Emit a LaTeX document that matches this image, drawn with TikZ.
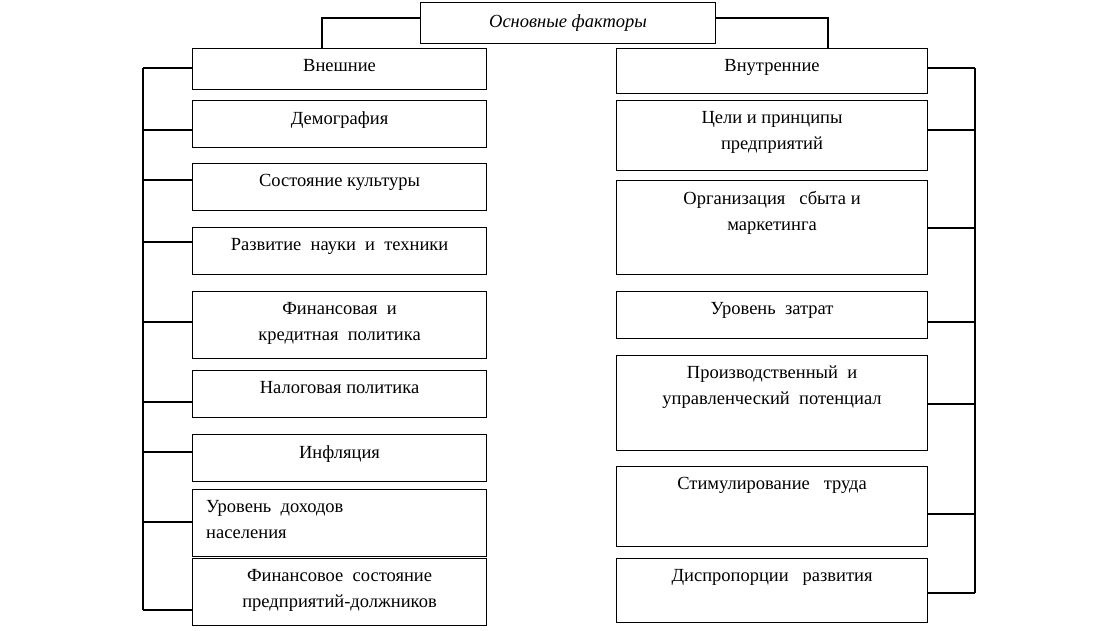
\documentclass[tikz,border=0pt]{standalone}
\usepackage{fontspec}
\setmainfont{Liberation Serif}
\begin{document}
\begin{tikzpicture}[x=1pt,y=-1pt,
  bx/.style={draw,line width=1.1pt,inner sep=0pt},
  tx/.style={font=\fontsize{18.5}{26}\selectfont,inner sep=0pt},
  ln/.style={line width=1.1pt}]
\useasboundingbox (0,0) rectangle (1119,630);
\node[bx,minimum width=295,minimum height=41,anchor=north west,font=\itshape\fontsize{18.5}{22}\selectfont] (top) at (420,2) {Основные факторы};
% left
\foreach \n/\a/\b/\t in {l1/48/89/Внешние, l2/100/147/Демография, l3/163/210/Состояние культуры, l4/227/274/Развитие\ \ науки\ \ и\ \ техники, l5/291/358/{Финансовая\ \ и\\кредитная\ \ политика}, l6/370/417/Налоговая политика, l7/434/481/Инфляция, l9/558/625/{Финансовое\ \ состояние\\предприятий-должников}}{
 \node[bx,minimum width=294,minimum height=\b-\a,anchor=north west] (\n) at (192,\a) {};
 \node[tx,align=center,anchor=north] (\n t) at ([yshift=-11]\n.north) {\t};
}
\node[bx,minimum width=294,minimum height=67,anchor=north west] (l8) at (192,489) {};
\node[tx,align=left,anchor=north west] at ([xshift=14,yshift=-11]l8.north west) {Уровень\ \ доходов\\населения};
% right
\foreach \n/\a/\b/\t in {r1/48/93/Внутренние, r2/100/170/{Цели и принципы\\предприятий}, r3/180/274/{Организация\ \ \ сбыта и\\маркетинга}, r4/291/338/Уровень\ \ затрат, r5/355/450/{Производственный\ \ и\\управленческий\ \ потенциал}, r6/466/546/Стимулирование\ \ \ труда, r7/558/622/Диспропорции\ \ \ развития}{
 \node[bx,minimum width=311,minimum height=\b-\a,anchor=north west] (\n) at (616,\a) {};
 \node[tx,align=center,anchor=north] (\n t) at ([yshift=-11]\n.north) {\t};
}
\coordinate (lb) at (143,68); \coordinate (le) at (143,610);
\coordinate (rb) at (975,68); \coordinate (re) at (975,593);
\draw[ln] (top.west |- 0,18) -| (l1.north -| 322,0);
\draw[ln] (top.east |- 0,18) -| (r1.north -| 828,0);
\draw[ln] (lb) -- (le);
\draw[ln] (rb) -- (re);
\foreach \n/\y in {l1/68,l2/130,l3/180,l4/242,l5/322,l6/402,l7/452,l8/522,l9/610}{\draw[ln] (143,\y) -- (\n.west |- 0,\y);}
\foreach \n/\y in {r1/68,r2/130,r3/228,r4/322,r5/404,r6/514,r7/593}{\draw[ln] (975,\y) -- (\n.east |- 0,\y);}
\end{tikzpicture}
\end{document}
